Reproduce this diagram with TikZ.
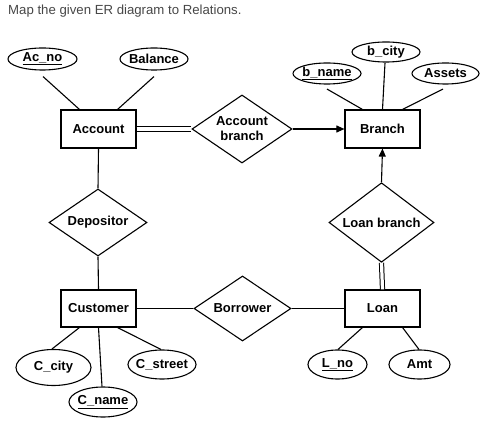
\documentclass[tikz,border=0pt]{standalone}
\usepackage{fontspec}
\setmainfont{Liberation Sans}
\usetikzlibrary{shapes.geometric,arrows.meta,calc}
\begin{document}
\begin{tikzpicture}[x=1pt,y=-1pt,
  every node/.style={font=\fontsize{13}{15}\selectfont\bfseries, inner sep=0pt, text=black},
  ent/.style={draw, line width=1.2pt, minimum width=75pt, minimum height=38pt},
  attr/.style={draw, ellipse, line width=1.1pt, inner xsep=-8pt, inner ysep=-2pt},
  rel/.style={draw, diamond, line width=1.1pt, align=center, inner sep=-2pt},
  conn/.style={line width=1.1pt},
  dbl/.style={double, double distance=3.2pt, line width=1pt},
  arr/.style={line width=1.1pt, -{Triangle[length=8pt,width=7pt]}}]
\useasboundingbox (0,0) rectangle (490,438);
\node[anchor=base west, font=\fontsize{13.2}{15}\selectfont, text=black!72] (title) at (8,15) {Map the given ER diagram to Relations.};
% entities
\node[ent] (account) at (98.5,129) {Account};
\node[ent] (branch) at (382.5,129) {Branch};
\node[ent, minimum height=37pt] (customer) at (98.5,308.5) {Customer};
\node[ent, minimum height=37pt] (loan) at (382.5,308.5) {Loan};
% relationships
\node[rel, minimum width=100pt, minimum height=64pt] (accbr) at (242,129) {Account\\branch};
\node[rel, minimum width=98pt, minimum height=67pt] (depositor) at (98,222.5) {Depositor};
\node[rel, minimum width=97pt, minimum height=65pt] (borrower) at (242.5,308.5) {Borrower};
\node[rel, minimum width=105pt, minimum height=67pt] (loanbr) at (381.5,222.5) {Loan branch};
% attributes
\node[attr, minimum width=69pt, minimum height=22pt] (acno) at (42.5,59) {\underline{Ac\_no}};
\node[attr, minimum width=68pt, minimum height=22pt] (balance) at (154,59) {Balance};
\node[attr, minimum width=68pt, minimum height=21pt] (bname) at (327,73.5) {\underline{b\_name}};
\node[attr, minimum width=68pt, minimum height=20pt] (bcity) at (386,52) {b\_city};
\node[attr, minimum width=67pt, minimum height=21pt] (assets) at (445.5,73.5) {Assets};
\node[attr, minimum width=75pt, minimum height=36pt] (ccity) at (53.5,367.5) {C\_city};
\node[attr, minimum width=68pt, minimum height=29pt] (cstreet) at (162,364.5) {C\_street};
\node[attr, minimum width=68pt, minimum height=30pt] (cname) at (103,402) {\underline{C\_name}};
\node[attr, minimum width=59pt, minimum height=29pt] (lno) at (337.5,364.5) {\underline{L\_no}};
\node[attr, minimum width=61pt, minimum height=29pt] (amt) at (419.5,364.5) {Amt};
% attribute connectors
\draw[conn] ($(acno.south)+(0.5,6)$) -- ($(account.north west)+(19,0)$);
\draw[conn] ($(balance.south)+(0,6)$) -- ($(account.north east)+(-19,0)$);
\draw[conn] ($(bname.south)+(0,4.5)$) -- ($(branch.north west)+(18,0)$);
\draw[conn] ($(bcity.south)+(-1,0.5)$) -- (branch.north);
\draw[conn] ($(assets.south)+(-2.5,4.5)$) -- ($(branch.north east)+(-18,0)$);
\draw[conn] ($(ccity.north)+(-1.5,0)$) -- ($(customer.south west)+(19,0)$);
\draw[conn] ($(cname.north)+(-1,0)$) -- (customer.south);
\draw[conn] ($(cstreet.north)+(-1,0)$) -- ($(customer.south east)+(-19,0)$);
\draw[conn] ($(lno.north)+(0.5,0)$) -- ($(loan.south west)+(18,0)$);
\draw[conn] ($(amt.north)+(-0.5,0)$) -- ($(loan.south east)+(-18,0)$);
% relationship connectors
\draw[dbl] (account.east) -- (accbr.west);
\draw[arr] (accbr.east) -- (branch.west);
\draw[conn] (account.south) -- (depositor.north);
\draw[conn] (depositor.south) -- (customer.north);
\draw[conn] (customer.east) -- (borrower.west);
\draw[conn] (borrower.east) -- (loan.west);
\draw[dbl] (loanbr.south) -- (loan.north);
\draw[arr] (loanbr.north) -- (branch.south);
\end{tikzpicture}
\end{document}
